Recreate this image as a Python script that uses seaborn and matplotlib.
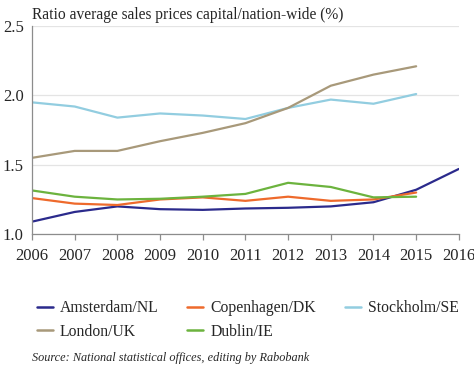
import matplotlib
matplotlib.use("Agg")
import matplotlib.pyplot as plt
import pandas as pd
import seaborn as sns

YEARS = list(range(2006, 2017))
CITIES = ["Amsterdam/NL", "Copenhagen/DK", "Stockholm/SE", "London/UK", "Dublin/IE"]

AMSTERDAM = [1.09, 1.16, 1.20, 1.18, 1.175, 1.185, 1.19, 1.20, 1.23, 1.32, 1.47]
COPENHAGEN = [1.26, 1.22, 1.21, 1.25, 1.265, 1.24, 1.27, 1.24, 1.25, 1.30]
STOCKHOLM = [1.95, 1.92, 1.84, 1.87, 1.855, 1.83, 1.91, 1.97, 1.94, 2.01]
LONDON = [1.55, 1.60, 1.60, 1.67, 1.73, 1.80, 1.91, 2.07, 2.15, 2.21]
DUBLIN = [1.315, 1.27, 1.25, 1.255, 1.27, 1.29, 1.37, 1.34, 1.265, 1.27]

COLORS = {
    "Amsterdam/NL": "#2B2A8C",
    "Copenhagen/DK": "#EE6A2C",
    "Stockholm/SE": "#92CDE0",
    "London/UK": "#A8997A",
    "Dublin/IE": "#6CB33E",
}


def build_frame() -> pd.DataFrame:
    rows = []
    for city, vals in zip(CITIES, [AMSTERDAM, COPENHAGEN, STOCKHOLM, LONDON, DUBLIN]):
        for year, v in zip(YEARS, vals):
            rows.append({"Year": year, "City": city, "Ratio": v})
    return pd.DataFrame(rows)


def main() -> None:
    sns.set_theme(style="white")
    plt.rcParams["font.family"] = ["Liberation Serif", "DejaVu Serif"]

    df = build_frame()
    fig = plt.figure(figsize=(4.74, 3.67), dpi=100)
    ax = fig.add_axes([0.0675, 0.362, 0.9005, 0.567])

    sns.lineplot(data=df, x="Year", y="Ratio", hue="City", hue_order=CITIES,
                 palette=COLORS, linewidth=1.6, ax=ax, legend=False)

    ax.set_xlim(2006, 2016)
    ax.set_ylim(1.0, 2.5)
    ax.set_xticks(YEARS)
    ax.set_yticks([1.0, 1.5, 2.0, 2.5])
    ax.set_yticklabels(["1.0", "1.5", "2.0", "2.5"])
    ax.set_xlabel("")
    ax.set_ylabel("")
    ax.yaxis.grid(True, color="#E4E4E4", linewidth=0.9)
    ax.set_axisbelow(True)
    for side in ["top", "right"]:
        ax.spines[side].set_visible(False)
    for side in ["left", "bottom"]:
        ax.spines[side].set_color("#8C8C8C")
        ax.spines[side].set_linewidth(0.9)
    ax.tick_params(axis="x", direction="out", length=4, width=0.9, color="#8C8C8C",
                   labelsize=12, pad=6, bottom=True)
    ax.tick_params(axis="y", length=0, labelsize=12, pad=6)

    fig.text(0.0675, 0.958, "Ratio average sales prices capital/nation-wide (%)",
             fontsize=11.2, ha="left", va="center")

    # matplotlib fills legend columns first, so order to read row-wise
    order = ["Amsterdam/NL", "London/UK", "Copenhagen/DK", "Dublin/IE", "Stockholm/SE"]
    handles = [plt.Line2D([], [], color=COLORS[c], linewidth=1.8) for c in order]
    fig.legend(handles, order, loc="center left", bbox_to_anchor=(0.048, 0.128),
               ncol=3, frameon=False, fontsize=11.3, handlelength=1.0,
               handletextpad=0.45, columnspacing=1.85, labelspacing=0.45)

    fig.text(0.0675, 0.025, "Source: National statistical offices, editing by Rabobank",
             fontsize=8.8, style="italic", ha="left", va="center")

    fig.savefig("out.png", dpi=100)
    plt.close(fig)


if __name__ == "__main__":
    main()
